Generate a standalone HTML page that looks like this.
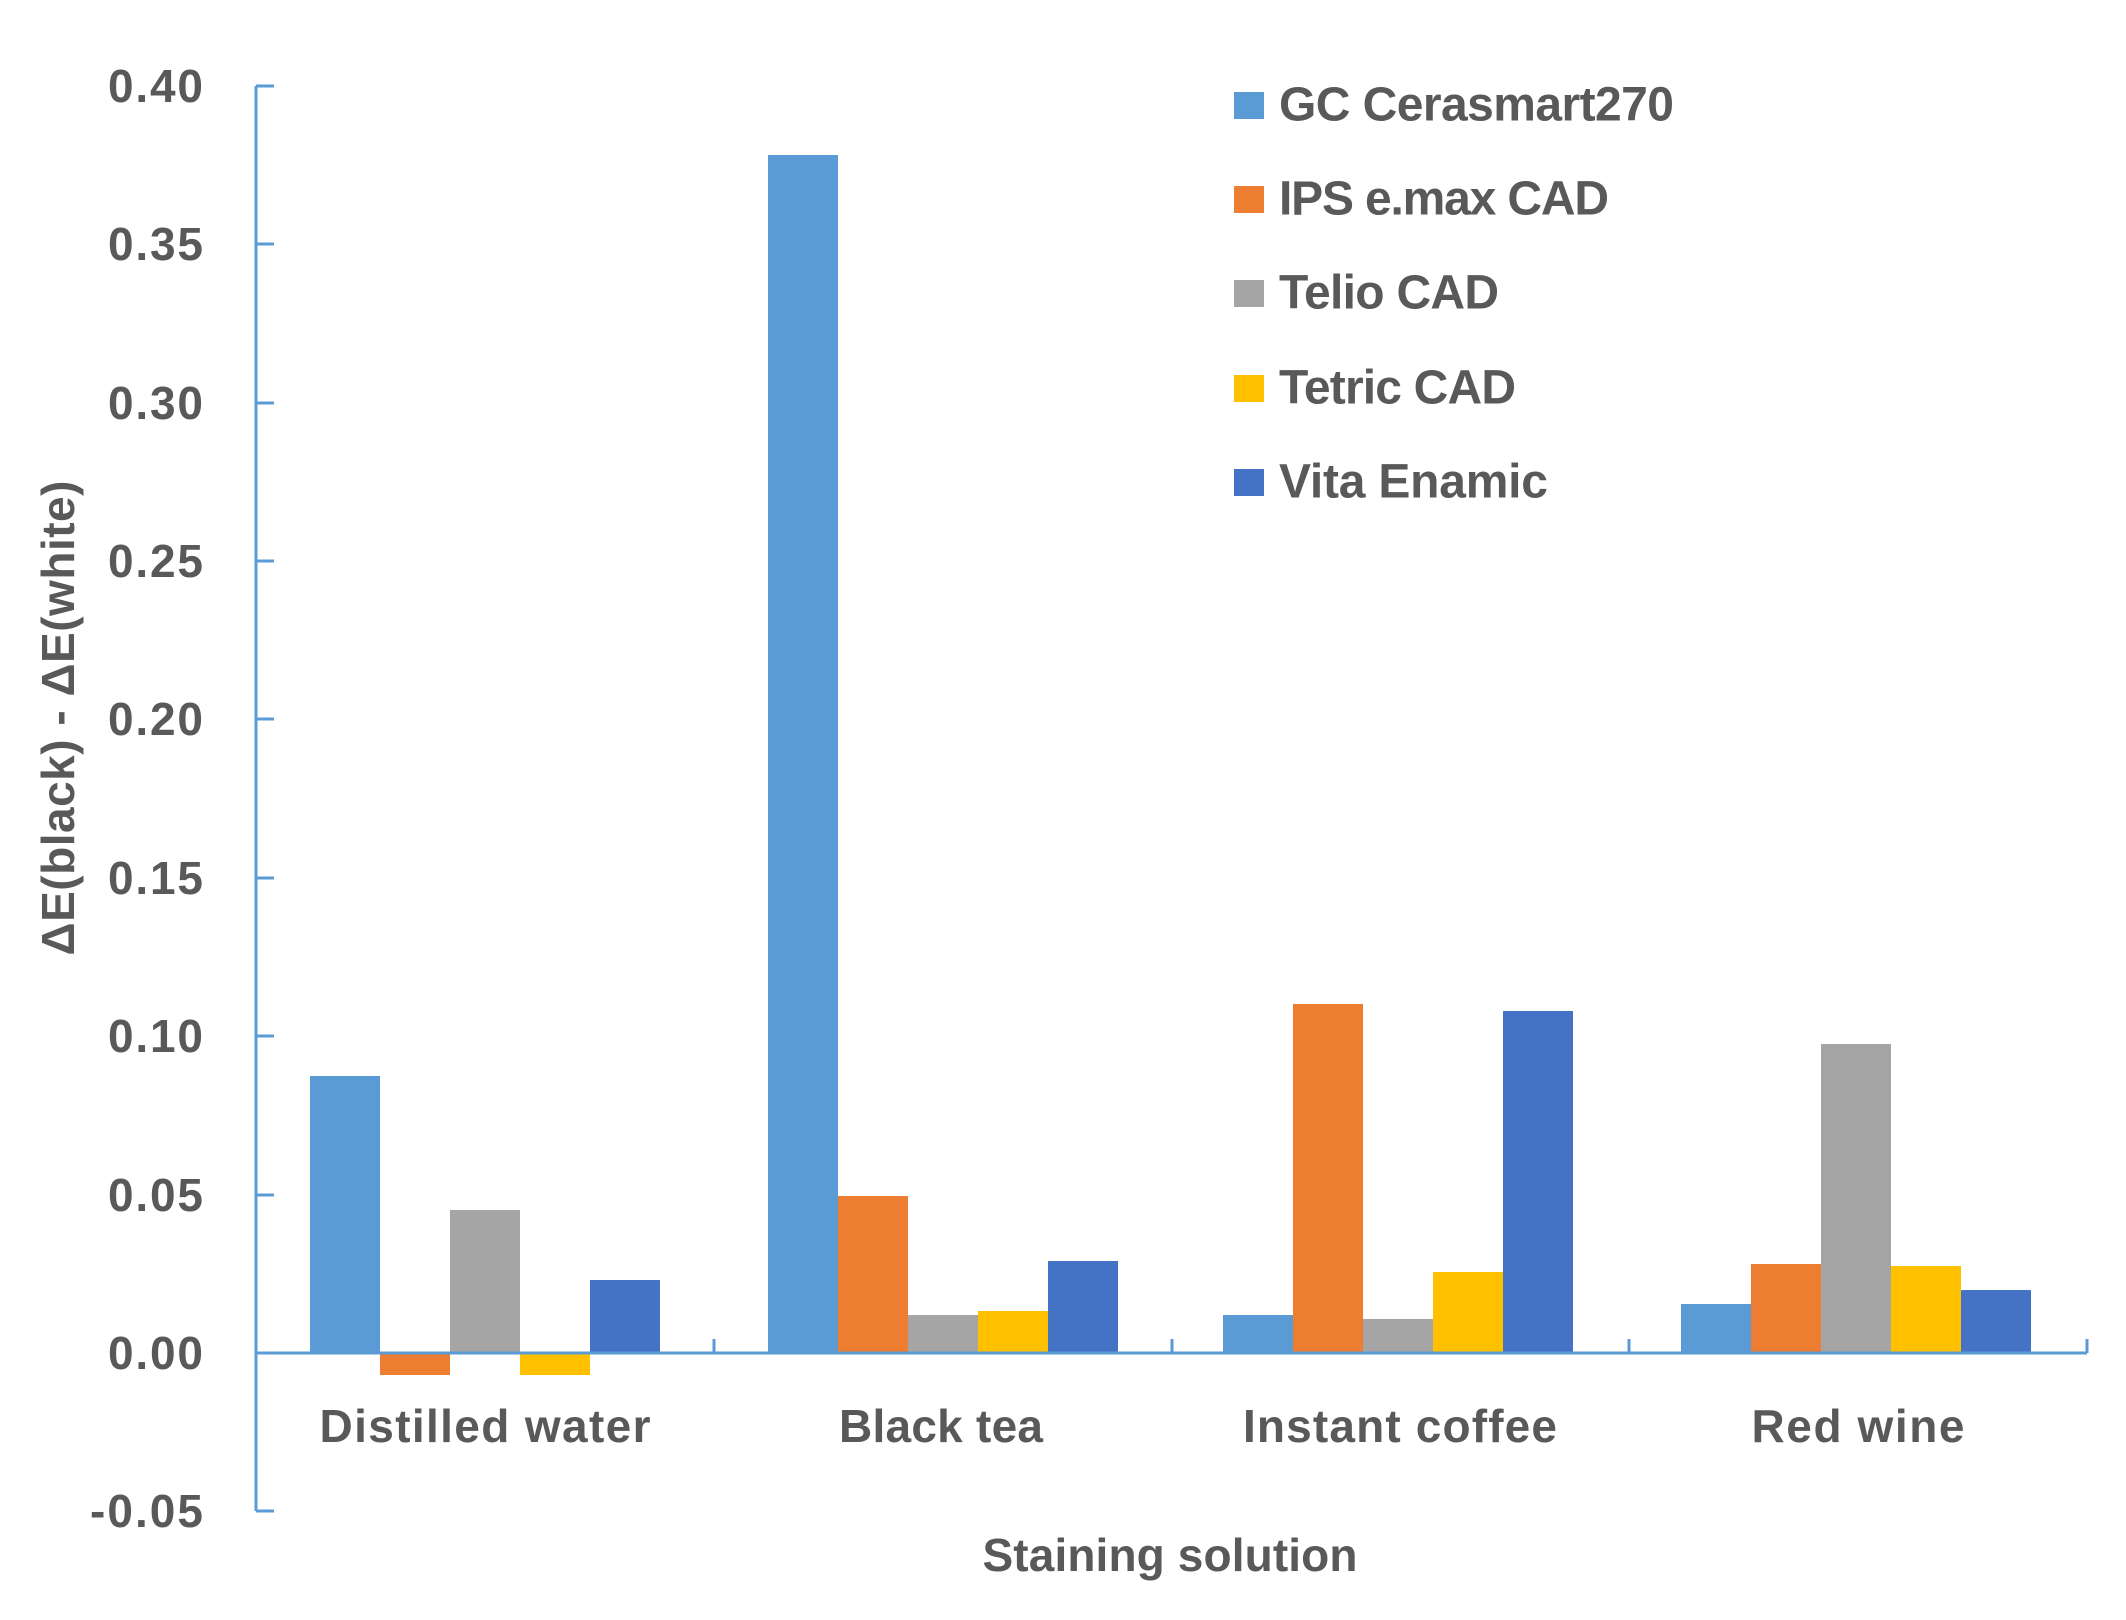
<!DOCTYPE html>
<html><head><meta charset="utf-8"><style>html,body{margin:0;padding:0;background:#fff}svg{display:block}</style></head>
<body>
<svg width="2126" height="1620" xmlns="http://www.w3.org/2000/svg" font-family="Liberation Sans, sans-serif" font-weight="bold" fill="#595959">
<g id="bars">
<!-- zero y=1353, 0.05 = 158.4px -->
<rect x="310" y="1076" width="70" height="277" fill="#5B9BD5"/>
<rect x="380" y="1353" width="70" height="22" fill="#ED7D31"/>
<rect x="450" y="1210" width="70" height="143" fill="#A5A5A5"/>
<rect x="520" y="1353" width="70" height="22" fill="#FFC000"/>
<rect x="590" y="1280" width="70" height="73" fill="#4472C4"/>

<rect x="768" y="155" width="70" height="1198" fill="#5B9BD5"/>
<rect x="838" y="1196" width="70" height="157" fill="#ED7D31"/>
<rect x="908" y="1315" width="70" height="38" fill="#A5A5A5"/>
<rect x="978" y="1311" width="70" height="42" fill="#FFC000"/>
<rect x="1048" y="1261" width="70" height="92" fill="#4472C4"/>

<rect x="1223" y="1315" width="70" height="38" fill="#5B9BD5"/>
<rect x="1293" y="1004" width="70" height="349" fill="#ED7D31"/>
<rect x="1363" y="1319" width="70" height="34" fill="#A5A5A5"/>
<rect x="1433" y="1272" width="70" height="81" fill="#FFC000"/>
<rect x="1503" y="1011" width="70" height="342" fill="#4472C4"/>

<rect x="1681" y="1304" width="70" height="49" fill="#5B9BD5"/>
<rect x="1751" y="1264" width="70" height="89" fill="#ED7D31"/>
<rect x="1821" y="1044" width="70" height="309" fill="#A5A5A5"/>
<rect x="1891" y="1266" width="70" height="87" fill="#FFC000"/>
<rect x="1961" y="1290" width="70" height="63" fill="#4472C4"/>
</g>
<g stroke="#5B9BD5" stroke-width="3" fill="none">
<line x1="256" y1="86" x2="256" y2="1511"/>
<line x1="256" y1="1353" x2="2087" y2="1353"/>
<path d="M256 86h18M256 244h18M256 403h18M256 561h18M256 719h18M256 878h18M256 1036h18M256 1195h18M256 1511h18"/>
<path d="M714 1353v-14M1172 1353v-14M1629 1353v-14M2087 1353v-14"/>
</g>
<g font-size="46" text-anchor="end" dominant-baseline="central">
<text x="203" y="86" textLength="95">0.40</text>
<text x="203" y="244" textLength="95">0.35</text>
<text x="203" y="403" textLength="95">0.30</text>
<text x="203" y="561" textLength="95">0.25</text>
<text x="203" y="719" textLength="95">0.20</text>
<text x="203" y="878" textLength="95">0.15</text>
<text x="203" y="1036" textLength="95">0.10</text>
<text x="203" y="1195" textLength="95">0.05</text>
<text x="203" y="1353" textLength="95">0.00</text>
<text x="203" y="1511" textLength="113">-0.05</text>
</g>
<g font-size="46" text-anchor="middle" dominant-baseline="central">
<text x="485" y="1426" textLength="331">Distilled water</text>
<text x="941" y="1426" textLength="204">Black tea</text>
<text x="1400" y="1426" textLength="314">Instant coffee</text>
<text x="1858" y="1426" textLength="213">Red wine</text>
<text x="1170" y="1555" textLength="375">Staining solution</text>
<text transform="translate(58,718) rotate(-90)" x="0" y="0" textLength="475">ΔE(black) - ΔE(white)</text>
</g>
<g>
<rect x="1234" y="92" width="30" height="27" fill="#5B9BD5"/>
<rect x="1234" y="186" width="30" height="27" fill="#ED7D31"/>
<rect x="1234" y="280" width="30" height="27" fill="#A5A5A5"/>
<rect x="1234" y="375" width="30" height="27" fill="#FFC000"/>
<rect x="1234" y="469" width="30" height="27" fill="#4472C4"/>
</g>
<g font-size="48" dominant-baseline="central">
<text x="1279" y="105" textLength="395">GC Cerasmart270</text>
<text x="1279" y="199" textLength="330">IPS e.max CAD</text>
<text x="1279" y="293" textLength="220">Telio CAD</text>
<text x="1279" y="388" textLength="237">Tetric CAD</text>
<text x="1279" y="482" textLength="269">Vita Enamic</text>
</g>
</svg>
</body></html>
